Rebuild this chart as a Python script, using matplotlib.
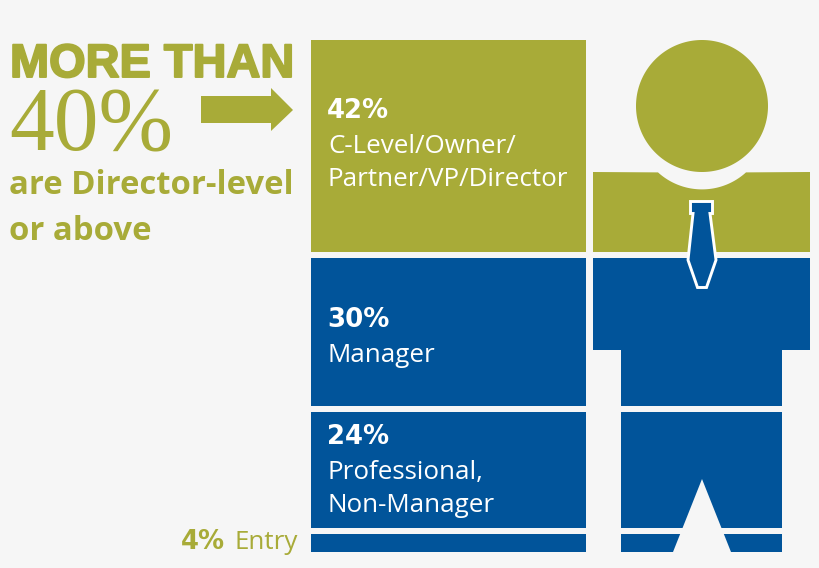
import numpy as np
import matplotlib
matplotlib.use("Agg")
import matplotlib.pyplot as plt
from matplotlib.path import Path
from matplotlib.patches import PathPatch, Polygon
import matplotlib.patheffects as pe

# shares as printed, and band heights as measured on the picture
share_labels = ["42%", "30%", "24%"]
role_labels = ["C-Level/Owner/\nPartner/VP/Director", "Manager", "Professional,\nNon-Manager"]
band_heights = [212, 148, 116, 18]
band_colors = ["#a8ab38", "#01549a", "#01549a", "#01549a"]

OLIVE = "#a8ab38"
BLUE = "#01549a"
BG = "#f6f6f6"
GAP = 6
SANS = "Open Sans"

fig = plt.figure(figsize=(8.2, 5.68), dpi=100, facecolor=BG)
ax = fig.add_axes([0, 0, 1, 1])
ax.set_xlim(0, 820)
ax.set_ylim(568, 0)
ax.axis("off")

tops = 40 + np.concatenate([[0], np.cumsum(np.array(band_heights[:-1]) + GAP)])

# left column
for i in range(4):
    ax.bar([311], band_heights[i], width=275, bottom=tops[i], align="edge", color=band_colors[i])

# person outline, used to clip the same bands
cx = 702
t = np.linspace(0, 2 * np.pi, 200)
head = np.column_stack([cx + 66 * np.cos(t), 106 + 66 * np.sin(t)])
a = np.linspace(-np.arcsin(44 / 65.4), np.arcsin(44 / 65.4), 60)
neck = np.column_stack([cx + 65.4 * np.sin(a), 124 + 65.4 * np.cos(a)])
body = np.vstack([
    [[593, 172]],
    neck,
    [[810, 172], [810, 350], [782, 350], [782, 552], [731, 552],
     [cx, 479], [673, 552], [621, 552], [621, 350], [593, 350], [593, 172]],
])
verts = np.vstack([head, body])
codes = ([Path.MOVETO] + [Path.LINETO] * (len(head) - 1)
         + [Path.MOVETO] + [Path.LINETO] * (len(body) - 1))
person = PathPatch(Path(verts, codes), transform=ax.transData, fc="none", ec="none")
ax.add_patch(person)
for i in range(4):
    bars = ax.bar([593], band_heights[i], width=217, bottom=tops[i], align="edge", color=band_colors[i])
    for b in bars:
        b.set_clip_path(person)

# tie
tie = [(690.5, 201.5), (712.5, 201.5), (712.5, 213.5), (710, 213.5), (716, 260), (706.5, 287.5),
       (697.5, 287.5), (688, 260), (693, 213.5), (690.5, 213.5)]
ax.add_patch(Polygon(tie, closed=True, fc=BLUE, ec="white", lw=2.1, joinstyle="miter", zorder=5))

# arrow
arrow = [(201, 96), (271, 96), (271, 88), (293, 110), (271, 131), (271, 123), (201, 123)]
ax.add_patch(Polygon(arrow, closed=True, fc=OLIVE, ec="none"))

# left text
ax.text(10, 77, "MORE THAN", family="Liberation Sans", weight="bold", fontsize=33.8, color=OLIVE,
        va="baseline", path_effects=[pe.withStroke(linewidth=1.4, foreground=OLIVE)])
ax.text(9, 150, "40%", family="Liberation Serif", fontsize=64.5, color=OLIVE, va="baseline")
ax.text(9, 194, "are Director-level", family=SANS, weight="bold", fontsize=23.7, color=OLIVE, va="baseline")
ax.text(9, 240, "or above", family=SANS, weight="bold", fontsize=23.7, color=OLIVE, va="baseline")

# band labels
label_y = [118, 327, 444]
for s, r, y in zip(share_labels, role_labels, label_y):
    ax.text(327, y, s, family="DejaVu Sans", weight="bold", fontsize=18.7, color="white", va="baseline")
    for k, line in enumerate(r.split("\n")):
        ax.text(328, y + 35 + k * 33, line, family=SANS, fontsize=18.7, color="white", va="baseline")

ax.text(181, 549, "4%", family="DejaVu Sans", weight="bold", fontsize=18.7, color=OLIVE, va="baseline")
ax.text(235, 549, "Entry", family=SANS, fontsize=18.7, color=OLIVE, va="baseline")

fig.savefig("out.png", dpi=100, facecolor=BG)
